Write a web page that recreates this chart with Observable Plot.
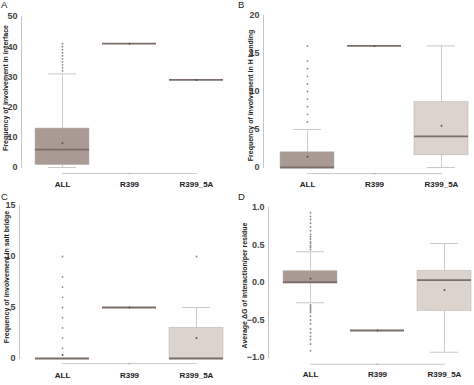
<!DOCTYPE html>
<html>
<head>
<meta charset="utf-8">
<script src="https://cdn.jsdelivr.net/npm/d3@7"></script>
<script src="https://cdn.jsdelivr.net/npm/@observablehq/plot@0.6"></script>
<style>
  html, body { margin: 0; padding: 0; background: #fff; }
  #wrap { position: relative; width: 474px; height: 385px; overflow: hidden; font-family: "Liberation Sans", Arial, sans-serif; }
  .panel { position: absolute; width: 237px; height: 192px; }
  .letter { position: absolute; font-size: 9.5px; color: #222; line-height: 1; }
</style>
</head>
<body>
<div id="wrap"></div>
<script>
const categories = ["ALL", "R399", "R399_5A"];

// Panel A: Frequency of involvement in interface
const aQ1 = [0.8, 41, 29];
const aMed = [5.9, 41, 29];
const aQ3 = [12.9, 41, 29];
const aLo = [0, 41, 29];
const aHi = [31, 41, 29];
const aMean = [8, 41, 29];
const aOutAll = [32, 33, 34, 35, 36, 37, 38, 39, 40, 41];
const aOut5A = [];
const aTicks = [0, 10, 20, 30, 40, 50];

// Panel B: Frequency of involvement in H bonding
const bQ1 = [0, 16, 1.6];
const bMed = [0, 16, 4.1];
const bQ3 = [2, 16, 8.6];
const bLo = [0, 16, 0];
const bHi = [5, 16, 16];
const bMean = [1.4, 16, 5.5];
const bOutAll = [6, 7, 8, 9, 10, 11, 12, 13, 14, 16];
const bOut5A = [];
const bTicks = [0, 5, 10, 15, 20];

// Panel C: Frequency of involvement in salt bridge
const cQ1 = [0, 5, 0];
const cMed = [0, 5, 0];
const cQ3 = [0, 5, 3];
const cLo = [0, 5, 0];
const cHi = [0, 5, 5];
const cMean = [0.35, 5, 2];
const cOutAll = [1, 2, 3, 4, 5, 6, 7, 8, 10];
const cOut5A = [10];
const cTicks = [0, 5, 10, 15];

// Panel D: Average ΔG of interaction/per residue
const dQ1 = [-0.015, -0.64, -0.38];
const dMed = [0.005, -0.64, 0.033];
const dQ3 = [0.15, -0.64, 0.153];
const dLo = [-0.27, -0.64, -0.93];
const dHi = [0.41, -0.64, 0.52];
const dMean = [0.05, -0.64, -0.10];
const dOutAll = [0.44, 0.47, 0.49, 0.52, 0.54, 0.58, 0.61, 0.64, 0.69, 0.74, 0.79, 0.84, 0.88, 0.93,
                 -0.30, -0.32, -0.34, -0.36, -0.38, -0.40, -0.45, -0.50, -0.55, -0.62, -0.67, -0.72, -0.76, -0.82, -0.91];
const dOut5A = [];
const dTicks = [-1, -0.5, 0, 0.5, 1];

const titles = [
  "Frequency of involvement in interface",
  "Frequency of involvement in H bonding",
  "Frequency of involvement in salt bridge",
  "Average \u0394G of interaction/per residue"
];
const letters = ["A", "B", "C", "D"];

const boxFill = ["#a99b93", "none", "#dcd3cd"];

function buildRows(q1, med, q3, lo, hi, mean) {
  return categories.map((c, i) => ({cat: c, q1: q1[i], med: med[i], q3: q3[i], lo: lo[i], hi: hi[i], mean: mean[i], fill: boxFill[i]}));
}
function buildOut(all, fa) {
  return all.map(v => ({cat: "ALL", v})).concat(fa.map(v => ({cat: "R399_5A", v})));
}

const panels = [
  {rows: buildRows(aQ1, aMed, aQ3, aLo, aHi, aMean), out: buildOut(aOutAll, aOut5A), ticks: aTicks, domain: [0, 50], fmt: d3.format("d"),
   left: 0, top: 0, ml: 21, il: 13, mr: 12, mt: 16, mb: 25, base: -2, tdx: -16, tdy: -4},
  {rows: buildRows(bQ1, bMed, bQ3, bLo, bHi, bMean), out: buildOut(bOutAll, bOut5A), ticks: bTicks, domain: [0, 20], fmt: d3.format("d"),
   left: 237, top: 0, ml: 26, il: 16, mr: 5, mt: 15, mb: 25, base: -0.8, tdx: -13, tdy: 4},
  {rows: buildRows(cQ1, cMed, cQ3, cLo, cHi, cMean), out: buildOut(cOutAll, cOut5A), ticks: cTicks, domain: [0, 15], fmt: d3.format("d"),
   left: 0, top: 192, ml: 19, il: 15, mr: 12, mt: 13, mb: 26, base: -0.5, tdx: -13, tdy: -5},
  {rows: buildRows(dQ1, dMed, dQ3, dLo, dHi, dMean), out: buildOut(dOutAll, dOut5A), ticks: dTicks, domain: [-1, 1], fmt: d3.format(".1f"),
   left: 237, top: 192, ml: 31, il: 14, mr: 2, mt: 15, mb: 27, base: -1.09, tdx: -24, tdy: 3}
];

const wrap = document.getElementById("wrap");

panels.forEach((p, k) => {
  const rows = p.rows;
  const boxes = rows.filter(r => r.q3 > r.q1);
  const capsHi = rows.filter(r => r.hi > r.q3);
  const capsLo = rows.filter(r => r.lo < r.q1);
  const chart = Plot.plot({
    width: 237,
    height: 192,
    marginLeft: p.ml,
    marginRight: p.mr,
    marginTop: p.mt,
    marginBottom: p.mb,
    style: {fontFamily: "'Liberation Sans', Arial, sans-serif", background: "transparent", overflow: "visible"},
    x: {type: "band", domain: categories, paddingInner: 0.19, paddingOuter: 0, insetLeft: p.il, insetRight: 0},
    y: {domain: p.domain},
    marks: [
      Plot.frame({anchor: "left", stroke: "#c4c4c4"}),
      Plot.axisY(p.ticks, {tickSize: 0, tickPadding: 4, fontSize: 9, fontWeight: "bold", fill: "#444", label: null, tickFormat: p.fmt}),
      Plot.axisX({tickSize: 0, tickPadding: 14, fontSize: 8, fontWeight: "bold", fill: "#222", label: null}),
      Plot.line(categories, {x: d => d, y: () => p.base, stroke: "#c8c8c8", strokeWidth: 1}),
      Plot.dot([categories[1]], {x: d => d, y: () => p.base, r: 0.8, fill: "#aaa"}),
      Plot.ruleX(rows.filter(r => r.hi > r.lo), {x: "cat", y1: "lo", y2: "hi", stroke: "#cdcdcd", strokeWidth: 1}),
      Plot.tickY(capsHi, {x: "cat", y: "hi", insetLeft: 13, insetRight: 13, stroke: "#c8c8c8", strokeWidth: 1}),
      Plot.tickY(capsLo, {x: "cat", y: "lo", insetLeft: 13, insetRight: 13, stroke: "#c8c8c8", strokeWidth: 1}),
      Plot.barY(boxes, {x: "cat", y1: "q1", y2: "q3", fill: "fill", stroke: "#b9aea8", strokeWidth: 0.5}),
      Plot.tickY(rows, {x: "cat", y: "med", stroke: "#7b6e68", strokeWidth: 1.8}),
      Plot.dot(rows, {x: "cat", y: "mean", r: 1, fill: "#555"}),
      Plot.dot(p.out, {x: "cat", y: "v", r: 0.9, fill: "#888"}),
      Plot.text([titles[k]], {frameAnchor: "left", textAnchor: "middle", rotate: -90, dx: p.tdx, dy: p.tdy, fontSize: 7, fontWeight: "bold", fill: "#222", text: d => d})
    ]
  });
  const div = document.createElement("div");
  div.className = "panel";
  div.style.left = p.left + "px";
  div.style.top = p.top + "px";
  div.appendChild(chart);
  wrap.appendChild(div);
  const L = document.createElement("div");
  L.className = "letter";
  L.textContent = letters[k];
  L.style.left = (p.left + 1) + "px";
  L.style.top = (p.top + 0) + "px";
  wrap.appendChild(L);
});
</script>
</body>
</html>
